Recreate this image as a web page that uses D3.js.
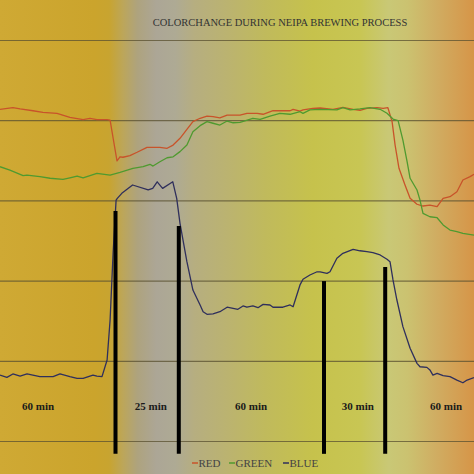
<!DOCTYPE html>
<html><head><meta charset="utf-8">
<script src="https://cdn.jsdelivr.net/npm/d3@7"></script>
<style>html,body{margin:0;padding:0;background:#fff;}svg{display:block;}</style>
</head><body>
<script>
const title = "COLORCHANGE DURING NEIPA BREWING PROCESS";
const gridValues = [0, 50, 100, 150, 200, 250];
const redData = [[0,206.8],[4.3,207.8],[6.7,207.0],[11,205.9],[14.3,204.9],[19,204.3],[23.3,201.8],[27.7,200.3],[30,201.2],[32.3,200.4],[35.7,200.3],[36.7,200.1],[37.7,188.9],[39,174.7],[40,177.2],[41,176.9],[43.3,177.9],[45.7,180.0],[49,183.1],[53.3,183.1],[55.7,182.5],[57.7,184.5],[60,188.7],[62.3,194.3],[64.3,199.1],[66.7,201.2],[69,202.6],[71,202.2],[73.3,201.5],[75.7,203.2],[80,203.2],[82.3,204.3],[85.7,204.3],[87.7,203.7],[91,205.9],[96.7,205.9],[97.7,206.8],[100,205.7],[101,206.4],[104.3,207.4],[106.7,207.6],[111,206.8],[114.3,208.0],[117.7,206.8],[120,206.2],[122.3,207.4],[125.7,207.8],[127.7,207.4],[129.3,207.8],[130.7,199.1],[131.7,184.5],[133,170.0],[135,159.6],[136.7,151.3],[139,147.6],[141,146.5],[143.3,147.1],[145.7,146.1],[147.7,151.3],[150,152.3],[152.3,155.4],[154.3,162.7],[156.7,164.8],[158,166.3]];
const greenData = [[0,171.0],[3.3,168.9],[7.7,165.4],[9,165.8],[13.3,164.8],[16.7,163.8],[21,163.1],[23.3,164.1],[25.7,165.2],[27.7,164.1],[32.3,166.9],[36.7,165.8],[40,167.5],[44.3,170.0],[47.7,171.0],[50,172.5],[51,171.4],[53.3,174.1],[55.7,176.6],[57.7,177.2],[60,180.4],[62.3,184.5],[64.3,192.8],[66.7,196.6],[69,199.1],[71,198.1],[73.3,197.0],[75.7,199.5],[77.7,198.4],[80,198.7],[84.3,201.2],[86.7,200.5],[90,202.6],[93.3,204.3],[96.7,203.7],[100,205.3],[101,204.3],[103.3,206.4],[106.7,206.8],[112.3,206.4],[114.3,207.8],[116.7,206.4],[120,207.0],[123.3,207.8],[126.7,206.8],[129,204.3],[131,200.7],[132.7,199.7],[134.3,187.6],[135.7,174.1],[136.7,163.8],[139,156.5],[140,150.2],[141,141.9],[143.3,139.8],[145.7,139.2],[147.7,134.7],[150,131.5],[152.3,130.5],[154.3,129.5],[158,128.4]];
const blueData = [[0,41.1],[2.3,39.7],[4.3,41.8],[6.7,40.5],[9,41.8],[13.3,40.1],[17.7,40.1],[20,41.8],[23.3,40.1],[25.7,39.1],[27.7,39.1],[31,41.1],[32.3,40.5],[34,40.1],[35.7,50.5],[36.7,75.4],[37.7,117.2],[38.7,150.2],[39.1,151.3],[40.6,154.4],[44.2,159.6],[49.4,156.5],[50.9,157.5],[52.4,161.6],[54.2,157.5],[57.6,161.6],[58.9,151.3],[60,135.7],[62.3,111.8],[64.3,94.1],[66.7,84.8],[67.7,80.6],[69,79.0],[71,79.2],[73.3,80.6],[75.7,83.4],[77.7,82.7],[79.3,82.1],[81,84.2],[82.3,83.4],[84.3,84.2],[86,83.1],[87.7,85.2],[90,84.8],[91,83.4],[94.3,83.4],[96.7,84.8],[97.7,83.7],[100,97.3],[101,100.8],[103.3,103.5],[105.7,105.5],[106.7,105.5],[109,104.5],[110,105.5],[112.3,113.9],[114.3,117.0],[117.7,119.5],[120,118.6],[122.3,118.0],[124.3,117.4],[126.7,116.0],[129,113.3],[130,111.8],[131,100.4],[132.3,87.9],[134.3,71.3],[136.7,57.8],[139,48.4],[140,46.3],[142.3,45.9],[143.3,44.3],[144.3,41.1],[145.7,42.2],[147.7,40.7],[150,40.1],[152.3,38.0],[154.3,36.3],[155.7,38.0],[158,39.5]];
const stageT = [38.5, 59.6, 108, 128.4];
const stageTop = [143.4, 134.0, 99.7, 108.5];
const stageBase = -8;
const stageLabels = ["60 min", "25 min", "60 min", "30 min", "60 min"];
const stageLabelT = [12.7, 50.3, 83.7, 119.3, 148.7];
const stageLabelV = 19.3;
const legendNames = ["RED", "GREEN", "BLUE"];
const seriesColors = ["#c8532a", "#4f9a2f", "#2f2f5c"];

const W = 474, H = 474;
const svg = d3.select("body").append("svg").attr("width", W).attr("height", H);
const x = d3.scaleLinear().domain([0, 158]).range([0, 474]);
const y = d3.scaleLinear().domain([0, 250]).range([441, 40]);

// background gradient
const defs = svg.append("defs");
const grad = defs.append("linearGradient").attr("id", "bg").attr("x1", "0").attr("x2", "1").attr("y1", "0").attr("y2", "0");
[[0,"#cfa934"],[0.2,"#cba42c"],[0.23,"#c8a430"],[0.26,"#bca65a"],[0.29,"#aea37e"],[0.33,"#aca696"],[0.37,"#aeaa94"],[0.41,"#b6ae80"],[0.48,"#bbb370"],[0.56,"#c0ba5c"],[0.66,"#c6c24c"],[0.76,"#c8c654"],[0.82,"#c9c876"],[0.86,"#cbc270"],[0.92,"#d0ad62"],[1,"#d69548"]]
  .forEach(s => grad.append("stop").attr("offset", s[0]).attr("stop-color", s[1]));
svg.append("rect").attr("width", W).attr("height", H).attr("fill", "url(#bg)");

// gridlines
const grid = svg.append("g").call(d3.axisLeft(y).tickValues(gridValues).tickSize(-W).tickFormat(""));
grid.select(".domain").remove();
grid.selectAll("line").attr("stroke", "#5a5030").attr("stroke-opacity", 0.75).attr("stroke-width", 1.2);

// title
svg.append("text").attr("x", 280).attr("y", 26).attr("text-anchor", "middle")
  .attr("font-family", "'Liberation Serif', 'Times New Roman', serif").attr("font-size", 10.5)
  .attr("fill", "#333").text(title);

// lines
const line = d3.line().x(d => x(d[0])).y(d => y(d[1]));
[redData, greenData, blueData].forEach((data, i) => {
  svg.append("path").datum(data).attr("d", line).attr("fill", "none")
    .attr("stroke", seriesColors[i]).attr("stroke-width", 1.3).attr("stroke-linejoin", "round");
});

// stage separators
svg.selectAll(".stage").data(stageT).enter().append("line")
  .attr("x1", d => x(d)).attr("x2", d => x(d))
  .attr("y1", (d, i) => y(stageTop[i])).attr("y2", y(stageBase))
  .attr("stroke", "#000").attr("stroke-width", 4);

// stage labels
svg.selectAll(".slab").data(stageLabels).enter().append("text")
  .attr("x", (d, i) => x(stageLabelT[i])).attr("y", y(stageLabelV))
  .attr("text-anchor", "middle").attr("font-family", "'Liberation Serif', 'Times New Roman', serif")
  .attr("font-weight", "bold").attr("font-size", 11).attr("fill", "#1a1a1a").text(d => d);

// legend
const legX = [192, 229, 283];
const leg = svg.append("g");
legendNames.forEach((n, i) => {
  leg.append("line").attr("x1", legX[i]).attr("x2", legX[i] + 6).attr("y1", 463).attr("y2", 463)
    .attr("stroke", seriesColors[i]).attr("stroke-width", 1.5);
  leg.append("text").attr("x", legX[i] + 6.5).attr("y", 467)
    .attr("font-family", "'Liberation Serif', 'Times New Roman', serif").attr("font-size", 11)
    .attr("fill", "#444").text(n);
});
</script>
</body></html>
